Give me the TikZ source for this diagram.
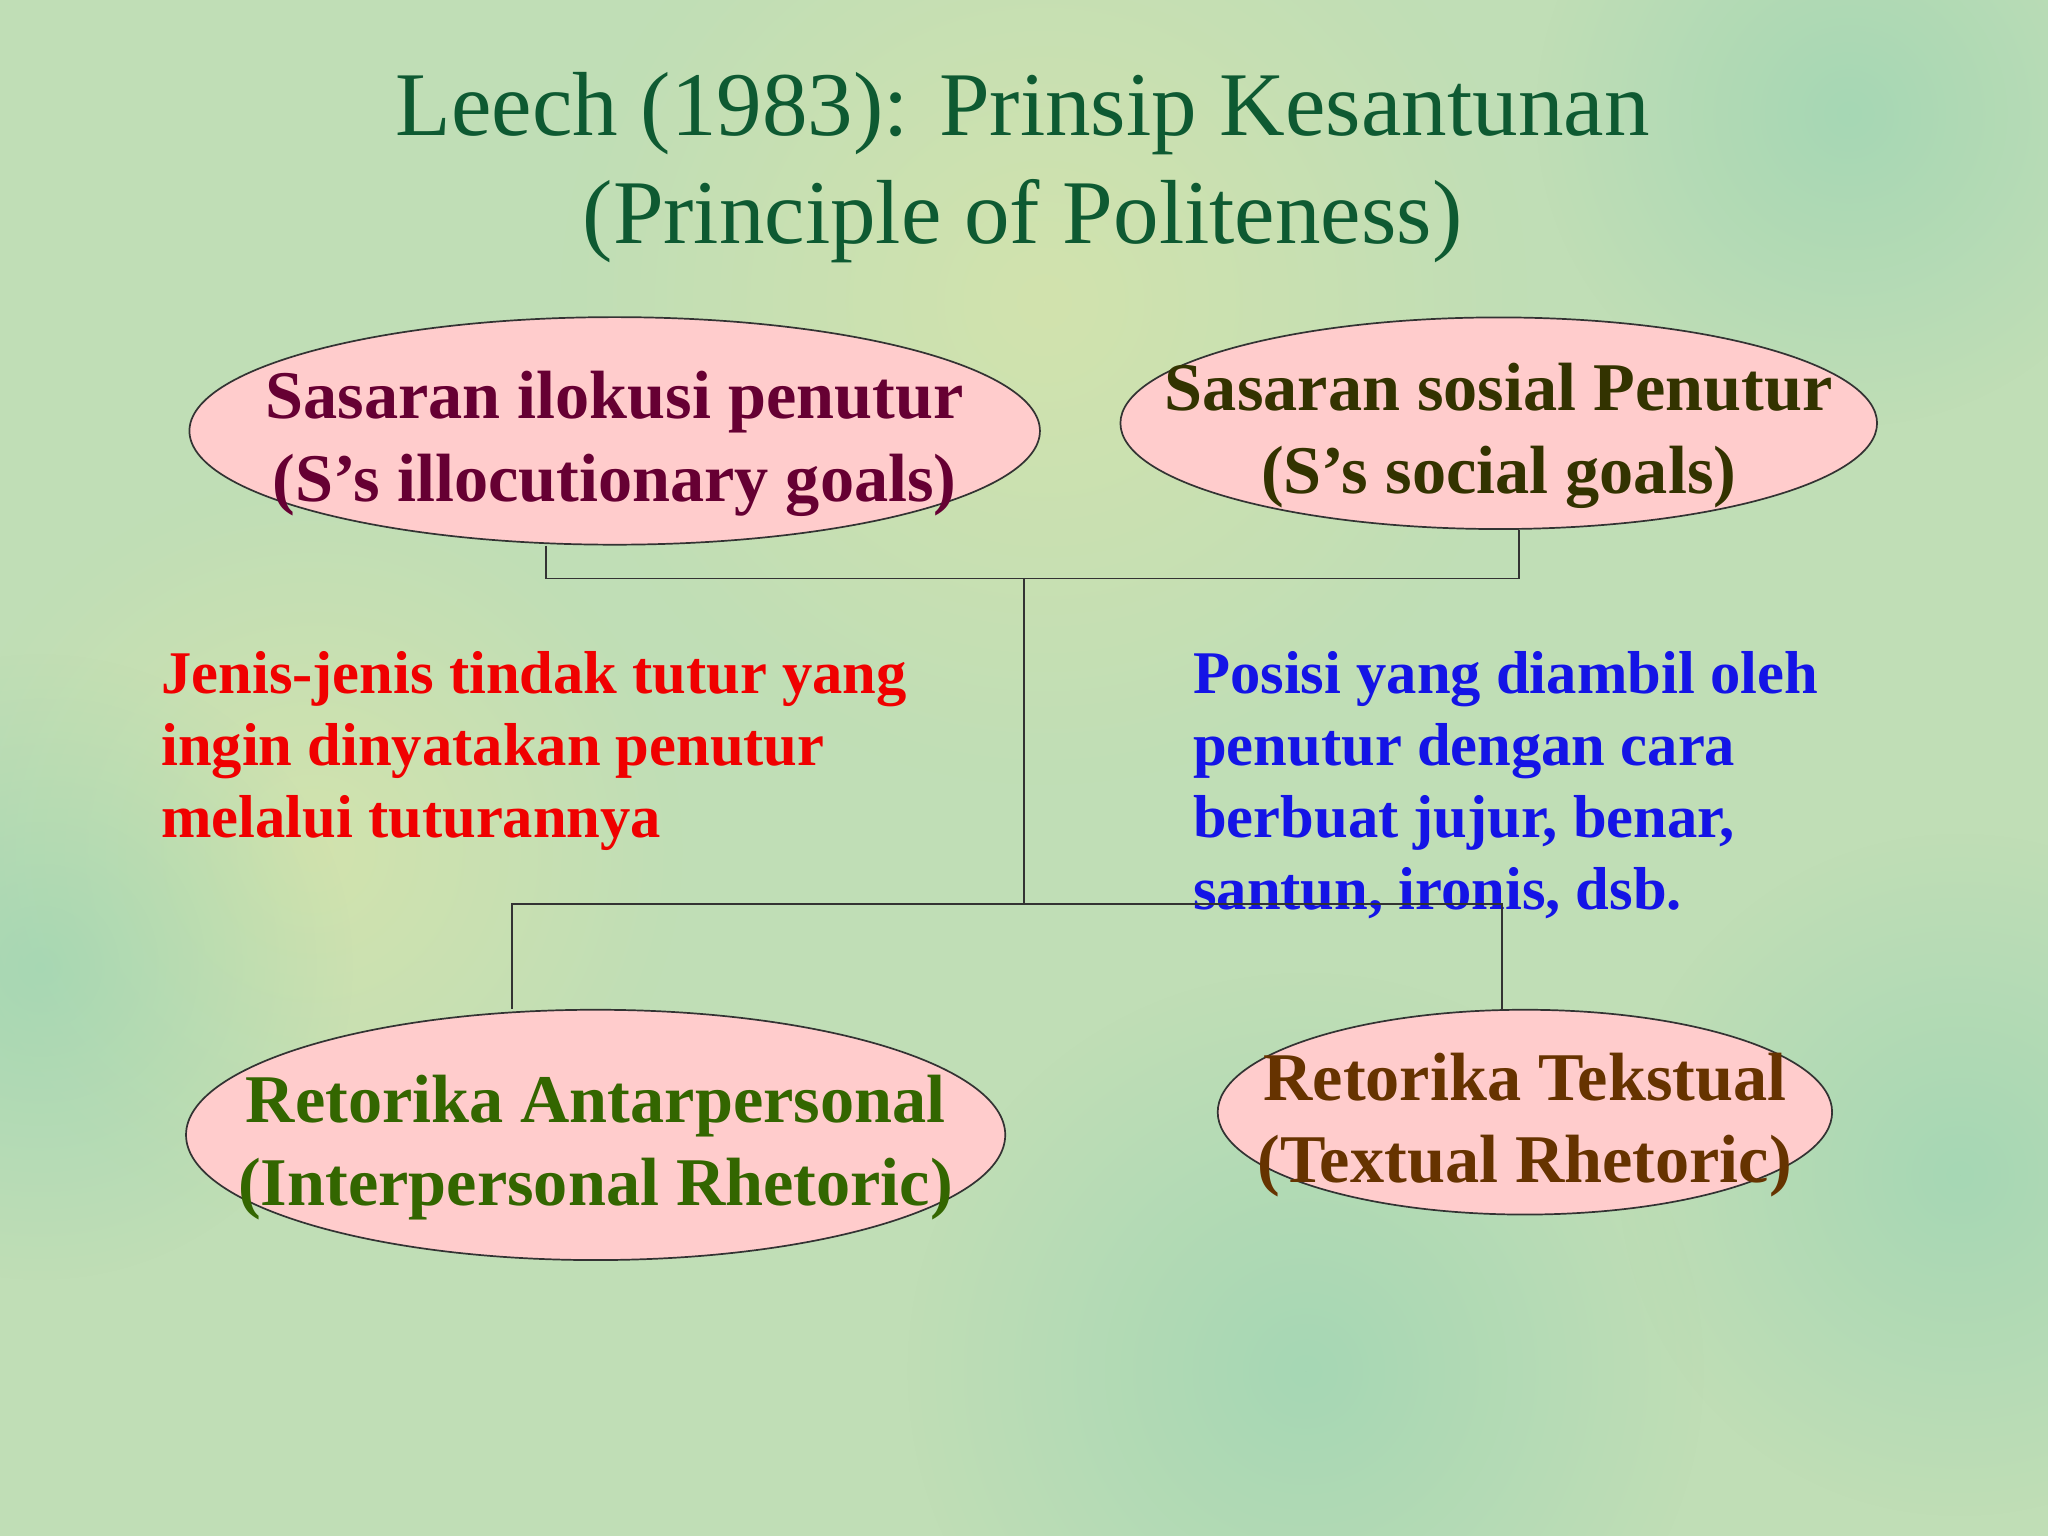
\documentclass[tikz,border=0pt]{standalone}
\usepackage{fontspec}
\setmainfont{Liberation Serif}
\usetikzlibrary{shapes.geometric,fadings}

\definecolor{titlegreen}{HTML}{0E5A32}
\definecolor{paper}{RGB}{192,222,182}
\definecolor{goalpink}{HTML}{FFCCCC}
\definecolor{maroon}{HTML}{660033}
\definecolor{olive}{HTML}{333300}
\definecolor{leaf}{HTML}{336600}
\definecolor{brownish}{HTML}{663300}
\definecolor{jred}{HTML}{F00000}
\definecolor{pblue}{HTML}{1414E6}
\definecolor{linegray}{HTML}{333333}
\definecolor{glowyellow}{RGB}{228,232,165}
\definecolor{glowteal}{RGB}{140,208,178}

\tikzfading[name=softglow, inner color=transparent!0, outer color=transparent!100]

\tikzset{
	bubble/.style={ellipse, draw=linegray, line width=0.6pt, fill=goalpink, inner sep=0pt},
	bubbletext/.style={align=center, inner sep=0pt, yshift=-4.5pt,
		font=\bfseries\fontsize{24}{29}\selectfont},
	note/.style={align=left, anchor=north west, inner sep=0pt,
		font=\bfseries\fontsize{21.3}{25.3}\selectfont},
	bus/.style={draw=linegray, line width=0.6pt}
}

\begin{document}
\begin{tikzpicture}[x=1pt,y=1pt]
	% background
	\useasboundingbox (0,0) rectangle (720,540);
	\fill[paper] (0,0) rectangle (720,540);
	\foreach \px/\py/\r/\c in {367/434/170/glowyellow, 110/241/130/glowyellow,
		14/200/110/glowteal, 459/58/140/glowteal, 689/127/120/glowteal, 650/500/110/glowteal}
	\fill[\c, opacity=0.5, path fading=softglow] (\px,\py) circle (\r);
	
	% title
	\node[text=titlegreen, align=center, inner sep=0pt,
	font=\fontsize{32}{38}\selectfont] (title) at (359.5,481)
	{Leech (1983): Prinsip Kesantunan\\(Principle of Politeness)};
	
	% goals
	\node[bubble, minimum width=299pt, minimum height=80pt] (ilok) at (216.1,388.5) {};
	\node[bubble, minimum width=266pt, minimum height=74.4pt] (sosial) at (526.9,391.2) {};
	
	% rhetorics
	\node[bubble, minimum width=288pt, minimum height=88pt] (antar) at (209.4,141) {};
	\node[bubble, minimum width=216pt, minimum height=72pt] (tekst) at (536.1,149) {};
	
	\node[bubbletext, text=maroon] (iloktext) at (ilok) {Sasaran ilokusi penutur\\(S’s illocutionary goals)};
	\node[bubbletext, text=olive] (sosialtext) at (sosial) {Sasaran sosial Penutur\\(S’s social goals)};
	\node[bubbletext, text=leaf] (antartext) at (antar) {Retorika Antarpersonal\\(Interpersonal Rhetoric)};
	\node[bubbletext, text=brownish] (teksttext) at (tekst) {Retorika Tekstual\\(Textual Rhetoric)};
	
	% notes
	\node[note, text=jred] (jenis) at (56.5,311) {Jenis-jenis tindak tutur yang\\ingin dinyatakan penutur\\melalui tuturannya};
	\node[note, text=pblue] (posisi) at (419.3,311) {Posisi yang diambil oleh\\penutur dengan cara\\berbuat jujur, benar,\\santun, ironis, dsb.};
	
	% connectors
	\coordinate (topL) at (191.9,336.6);
	\coordinate (topR) at (534.1,336.6);
	\coordinate (hub) at (360,336.6);
	\coordinate (lowhub) at (360,222.2);
	\coordinate (botL) at (180,222.2);
	\coordinate (botR) at (528.1,222.2);
	\draw[bus] (ilok.south -| topL) -- (topL) -- (topR) -- (sosial.south -| topR);
	\draw[bus] (hub) -- (lowhub);
	\draw[bus] (antar.north -| botL) -- (botL) -- (botR) -- (tekst.north -| botR);
	
\end{tikzpicture}
\end{document}
